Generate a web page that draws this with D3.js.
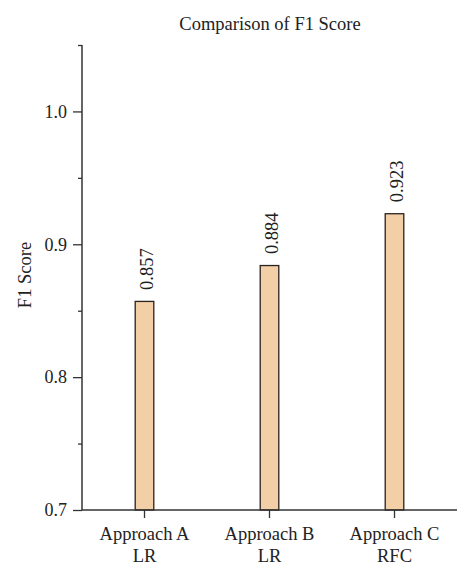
<!DOCTYPE html>
<html>
<head>
<meta charset="utf-8">
<script src="https://cdn.jsdelivr.net/npm/d3@7"></script>
<style>
  html, body { margin: 0; padding: 0; background: #fff; }
  text { font-family: "Liberation Serif", "DejaVu Serif", serif; fill: #222; }
</style>
</head>
<body>
<svg id="chart" width="474" height="579"></svg>
<script>
const categories = ["Approach A|LR", "Approach B|LR", "Approach C|RFC"];
const f1Scores = [0.857, 0.884, 0.923];
const valueLabels = ["0.857", "0.884", "0.923"];
const majorTicks = [0.7, 0.8, 0.9, 1.0];
const minorTicks = [0.75, 0.85, 0.95, 1.05];
const titleText = "Comparison of F1 Score";
const yTitle = "F1 Score";

const svg = d3.select("#chart");
const mLeft = 82, mRight = 457, mTop = 45, mBottom = 510;

const y = d3.scaleLinear().domain([0.7, 1.05]).range([mBottom, mTop]);
const x = d3.scaleBand().domain(categories).range([mLeft, mRight]).paddingInner(0).paddingOuter(0);

const barW = 18.6;
const axisColor = "#333";

// bars
svg.append("g").selectAll("rect").data(f1Scores).join("rect")
  .attr("x", (d, i) => x(categories[i]) + x.bandwidth() / 2 - barW / 2)
  .attr("y", d => y(d))
  .attr("width", barW)
  .attr("height", d => y(0.7) - y(d))
  .attr("fill", "#F2CFA6")
  .attr("stroke", "#2a2220")
  .attr("stroke-width", 1.3);

// value labels
svg.append("g").selectAll("text").data(f1Scores).join("text")
  .attr("transform", (d, i) => `translate(${x(categories[i]) + x.bandwidth() / 2 + 8},${y(d) - 11.5}) rotate(-90)`)
  .attr("text-anchor", "start")
  .attr("font-size", 18.5)
  .text((d, i) => valueLabels[i]);

// y axis
const yAxis = d3.axisLeft(y).tickValues(majorTicks).tickFormat(d3.format(".1f")).tickSize(9).tickPadding(6);
const gy = svg.append("g").attr("transform", `translate(${mLeft},0)`).call(yAxis);
gy.select(".domain").remove();
gy.selectAll(".tick line").attr("stroke", axisColor).attr("stroke-width", 1.3);
gy.selectAll(".tick text").attr("font-size", 18).attr("font-family", "Liberation Serif").attr("fill", "#222");
const yMinor = d3.axisLeft(y).tickValues(minorTicks).tickFormat("").tickSize(4);
const gym = svg.append("g").attr("transform", `translate(${mLeft},0)`).call(yMinor);
gym.select(".domain").remove();
gym.selectAll(".tick line").attr("stroke", axisColor).attr("stroke-width", 1.3);
svg.append("line").attr("x1", mLeft).attr("x2", mLeft).attr("y1", y(1.05)).attr("y2", y(0.7))
  .attr("stroke", axisColor).attr("stroke-width", 1.5);

// x axis
const xAxis = d3.axisBottom(x).tickSize(8).tickFormat("");
const gx = svg.append("g").attr("transform", `translate(0,${mBottom})`).call(xAxis);
gx.select(".domain").remove();
gx.selectAll(".tick line").attr("stroke", axisColor).attr("stroke-width", 1.3);
svg.append("line").attr("x1", mLeft).attr("x2", mRight).attr("y1", mBottom).attr("y2", mBottom)
  .attr("stroke", axisColor).attr("stroke-width", 1.5);

const xl = svg.append("g").selectAll("text").data(categories).join("text")
  .attr("x", d => x(d) + x.bandwidth() / 2)
  .attr("text-anchor", "middle")
  .attr("font-size", 18.5);
xl.append("tspan").attr("x", d => x(d) + x.bandwidth() / 2).attr("y", 540).text(d => d.split("|")[0]);
xl.append("tspan").attr("x", d => x(d) + x.bandwidth() / 2).attr("y", 562).text(d => d.split("|")[1]);

// title
svg.append("text").attr("x", 270).attr("y", 30).attr("text-anchor", "middle")
  .attr("font-size", 18.5).text(titleText);

// y title
svg.append("text").attr("transform", `translate(31,275) rotate(-90)`)
  .attr("text-anchor", "middle").attr("font-size", 18.5).text(yTitle);
</script>
</body>
</html>
